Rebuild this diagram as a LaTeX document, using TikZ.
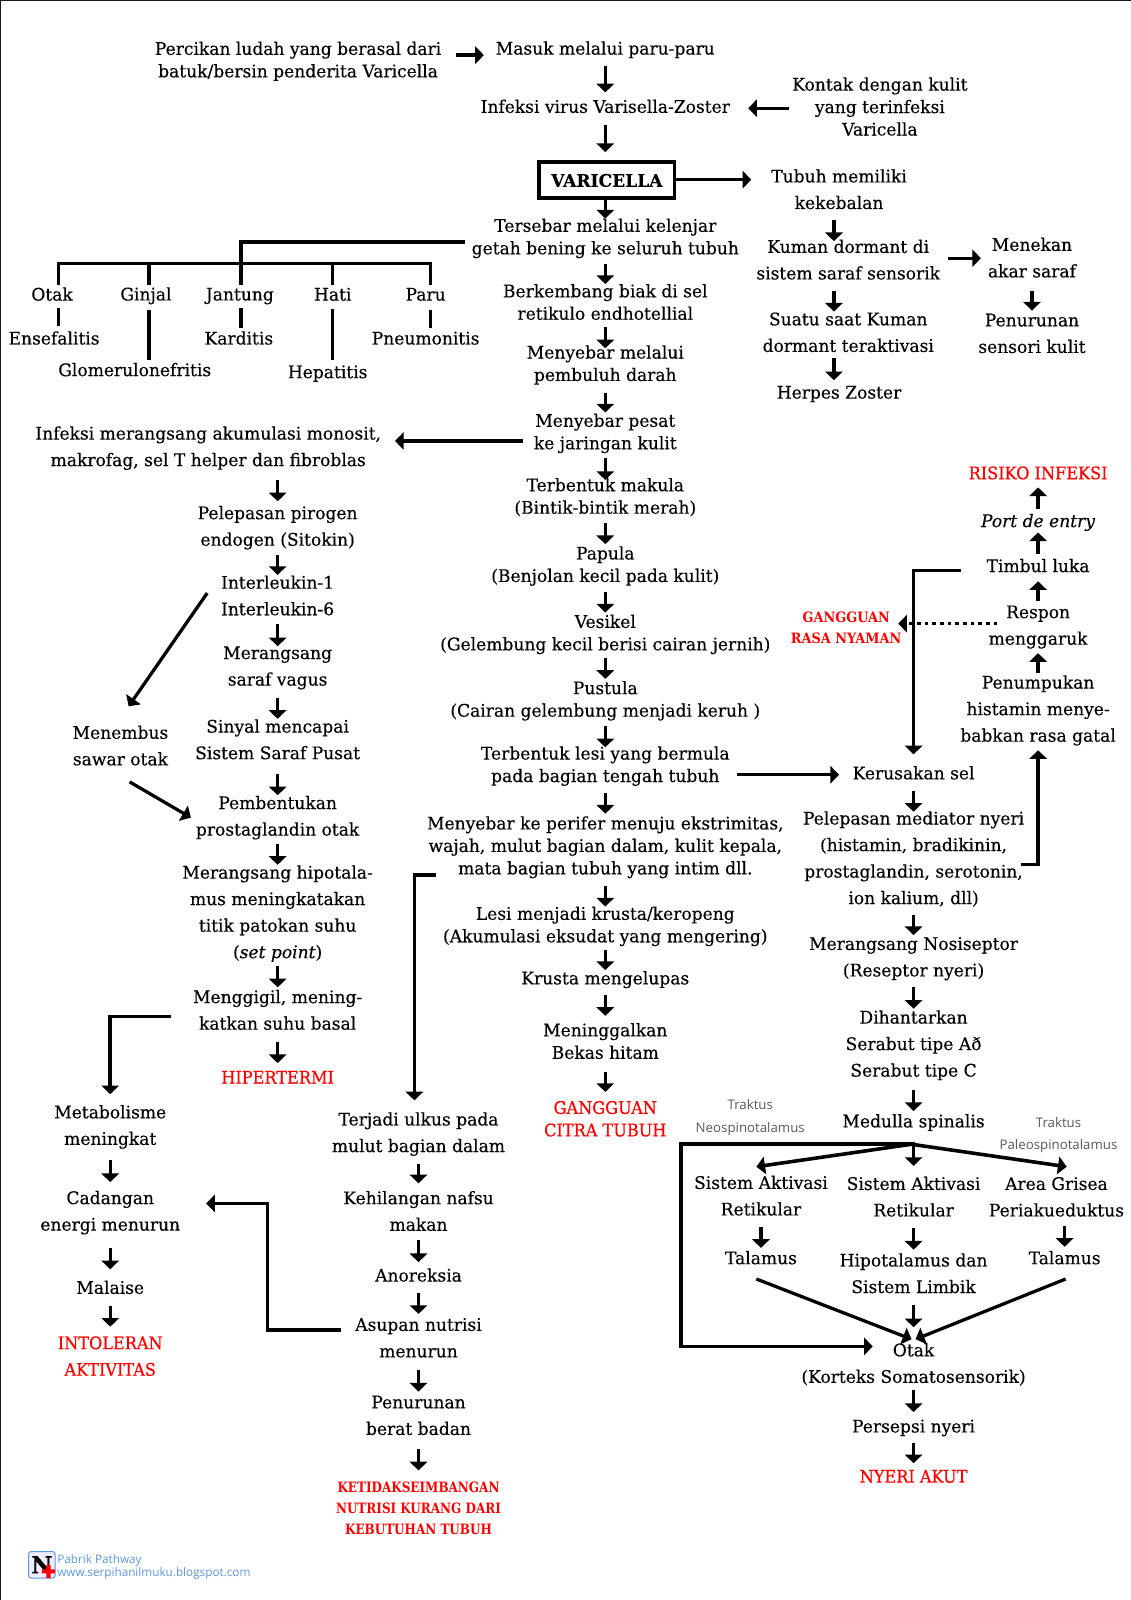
\documentclass[tikz,border=0pt]{standalone}
\usepackage{fontspec}
\usetikzlibrary{arrows.meta}
\setmainfont[FakeStretch=0.985,FakeBold=0.25]{DejaVu Serif}
\newfontfamily\redf[FakeStretch=0.93,FakeBold=0.5]{DejaVu Serif}
\newfontfamily\ketf[FakeStretch=0.84]{DejaVu Serif}
\newfontfamily\nyaf[FakeStretch=0.9]{DejaVu Serif}
\newfontfamily\grotesk{Open Sans}
\definecolor{blogblue}{RGB}{95,150,220}
\tikzset{
  txt/.style={align=center,inner sep=1pt,outer xsep=0pt,outer ysep=-2pt,font=\fontsize{17}{22}\selectfont,
    execute at begin node={\rule{0pt}{16.5pt}},execute at end node={\rule[-3.5pt]{0pt}{0pt}}},
  multi/.style 2 args={execute at begin node={\rule{0pt}{#1pt}},outer ysep=-#2pt},
  tt/.style={txt,multi={38}{1.5}},
  perc2/.style={txt,multi={37}{1}},
  three/.style={txt,multi={59}{1}},
  wide/.style={txt,multi={41}{1},font=\fontsize{17}{26}\selectfont},
  wide3/.style={wide,multi={67}{1}},
  wide4/.style={wide,multi={93}{1}},
  redt/.style={txt,text=red,font=\redf\fontsize{17}{22}\selectfont},
  redw/.style={wide,text=red,font=\redf\fontsize{17}{26}\selectfont},
  redb/.style={txt,multi={53.5}{1},text=red,font=\ketf\fontsize{14}{20.5}\selectfont\bfseries},
  redn/.style={txt,multi={34}{1},text=red,font=\nyaf\fontsize{14}{20.5}\selectfont\bfseries},
  tract/.style={align=center,inner sep=0pt,text=black!65,font=\grotesk\fontsize{13}{22}\selectfont},
  blog/.style={align=left,inner sep=0pt,anchor=west,text=blogblue,font=\grotesk\fontsize{11.5}{12}\selectfont},
  tipped/.style={-{Triangle[width=17pt,length=8.5pt]}},
  arr/.style={line width=3.2pt,tipped},
  sh/.style 2 args={shorten <=#1pt,shorten >=#2pt},
  conn/.style={line width=3.2pt},
  elbow/.style={line width=3.5pt,tipped},
  frameline/.style={line width=2.5pt,black!90}
}
\begin{document}
\begin{tikzpicture}[x=1pt,y=-1pt]
\useasboundingbox (0,0) rectangle (1108,1567.5);
\draw[frameline] (1108,0) -- (0,0) -- (0,1567.5);
% central column
\node[perc2] (perc) at (292,59) {Percikan ludah yang berasal dari\\batuk/bersin penderita Varicella};
\node[txt] (masuk) at (593,47) {Masuk melalui paru-paru};
\node[txt] (infeksi) at (593,104) {Infeksi virus Varisella-Zoster};
\node[three] (kontak) at (862,105) {Kontak dengan kulit\\yang terinfeksi\\Varicella};
\node[txt,draw,line width=3.5pt,outer ysep=1.75pt,font=\fontsize{17}{22}\selectfont\bfseries,minimum width=132.5pt,minimum height=35.5pt] (var) at (594.5,176.5) {VARICELLA};
\node[wide] (tubuh) at (822,186) {Tubuh memiliki\\kekebalan};
\node[tt] (tersebar) at (593,232) {Tersebar melalui kelenjar\\getah bening ke seluruh tubuh};
\node[wide] (kuman) at (831,255) {Kuman dormant di\\sistem saraf sensorik};
\node[wide] (menekan) at (1011,253) {Menekan\\akar saraf};
\node[tt] (berkembang) at (593,296) {Berkembang biak di sel\\retikulo endhotellial};
\node[wide] (suatu) at (831,326) {Suatu saat Kuman\\dormant teraktivasi};
\node[wide] (penurunan) at (1011,327) {Penurunan\\sensori kulit};
\node[txt] (herpes) at (822,384) {Herpes Zoster};
\node[tt] (menyebar) at (593,356) {Menyebar melalui\\pembuluh darah};
\node[tt] (pesat) at (593,423) {Menyebar pesat\\ke jaringan kulit};
\node[tt] (makula) at (593,486) {Terbentuk makula\\(Bintik-bintik merah)};
\node[tt] (papula) at (593,553) {Papula\\(Benjolan kecil pada kulit)};
\node[tt] (vesikel) at (593,620) {Vesikel\\(Gelembung kecil berisi cairan jernih)};
\node[tt] (pustula) at (593,685) {Pustula\\(Cairan gelembung menjadi keruh )};
\node[tt] (lesi) at (593,749) {Terbentuk lesi yang bermula\\pada bagian tengah tubuh};
\node[three] (perifer) at (593,829) {Menyebar ke perifer menuju ekstrimitas,\\wajah, mulut bagian dalam, kulit kepala,\\mata bagian tubuh yang intim dll.};
\node[tt] (krusta) at (593,906) {Lesi menjadi krusta/keropeng\\(Akumulasi eksudat yang mengering)};
\node[txt] (kelupas) at (593,958) {Krusta mengelupas};
\node[tt] (bekas) at (593,1020) {Meninggalkan\\Bekas hitam};
\node[redt,multi={38}{1.5}] (citra) at (593,1096) {GANGGUAN\\CITRA TUBUH};
% organs
\node[txt] (otak) at (51,288) {Otak};
\node[txt] (ginjal) at (143,288) {Ginjal};
\node[txt] (jantung) at (235,288) {Jantung};
\node[txt] (hati) at (326,288) {Hati};
\node[txt] (paru) at (417,288) {Paru};
\node[txt] (ensef) at (53,331) {Ensefalitis};
\node[txt] (kardit) at (234,331) {Karditis};
\node[txt] (pneu) at (417,331) {Pneumonitis};
\node[txt] (glom) at (132,362) {Glomerulonefritis};
\node[txt] (hepat) at (321,364) {Hepatitis};
% left column
\node[wide] (inf) at (204,438) {Infeksi merangsang akumulasi monosit,\\makrofag, sel T helper dan fibroblas};
\node[wide] (pirogen) at (272,516) {Pelepasan pirogen\\endogen (Sitokin)};
\node[wide] (inter) at (272,584) {Interleukin-1\\Interleukin-6};
\node[wide] (vagus) at (272,653) {Merangsang\\saraf vagus};
\node[wide] (sinyal) at (272,725) {Sinyal mencapai\\Sistem Saraf Pusat};
\node[wide] (menembus) at (118,731) {Menembus\\sawar otak};
\node[wide] (prostag) at (272,800) {Pembentukan\\prostaglandin otak};
\node[wide4] (hipot) at (272,894) {Merangsang hipotala-\\mus meningkatakan\\titik patokan suhu\\(\textit{set point})};
\node[wide] (gigil) at (272,990) {Menggigil, mening-\\katkan suhu basal};
\node[redt] (hiper) at (272,1055) {HIPERTERMI};
\node[wide] (metab) at (108,1103) {Metabolisme\\meningkat};
\node[wide] (cadangan) at (108,1187) {Cadangan\\energi menurun};
\node[txt] (malaise) at (108,1261) {Malaise};
\node[redw] (intol) at (108,1329) {INTOLERAN\\AKTIVITAS};
\node[wide] (ulkus) at (410,1110) {Terjadi ulkus pada\\mulut bagian dalam};
\node[wide] (nafsu) at (410,1187) {Kehilangan nafsu\\makan};
\node[txt] (anor) at (410,1249) {Anoreksia};
\node[wide] (asupan) at (410,1311) {Asupan nutrisi\\menurun};
\node[wide] (berat) at (410,1387) {Penurunan\\berat badan};
\node[redb] (ketid) at (410,1478) {KETIDAKSEIMBANGAN\\NUTRISI KURANG DARI\\KEBUTUHAN TUBUH};
% right column
\node[redt] (risiko) at (1017,463) {RISIKO INFEKSI};
\node[txt] (port) at (1017,510) {\textit{Port de entry}};
\node[txt] (timbul) at (1017,554) {Timbul luka};
\node[wide] (respon) at (1017,613) {Respon\\menggaruk};
\node[wide3] (numpuk) at (1017,695) {Penumpukan\\histamin menye-\\babkan rasa gatal};
\node[redn] (nyaman) at (829,615) {GANGGUAN\\RASA NYAMAN};
\node[txt] (rusak) at (895,757) {Kerusakan sel};
\node[wide4] (mediator) at (895,841) {Pelepasan mediator nyeri\\(histamin, bradikinin,\\prostaglandin, serotonin,\\ion kalium, dll)};
\node[wide] (nosi) at (895,938) {Merangsang Nosiseptor\\(Reseptor nyeri)};
\node[wide3] (hantar) at (895,1023) {Dihantarkan\\Serabut tipe Að\\Serabut tipe C};
\node[txt] (medulla) at (895,1098) {Medulla spinalis};
\node[tract] (trak1) at (735,1095) {Traktus\\Neospinotalamus};
\node[tract] (trak2) at (1037,1112) {Traktus\\Paleospinotalamus};
\node[wide] (sar1) at (745.5,1172) {Sistem Aktivasi\\Retikular};
\node[wide] (sar2) at (895,1173) {Sistem Aktivasi\\Retikular};
\node[wide] (area) at (1035,1173) {Area Grisea\\Periakueduktus};
\node[txt] (tal1) at (745.5,1232) {Talamus};
\node[wide] (hipo) at (895,1248) {Hipotalamus dan\\Sistem Limbik};
\node[txt] (tal2) at (1043,1232) {Talamus};
\node[wide] (otak2) at (895,1336) {Otak\\(Korteks Somatosensorik)};
\node[txt] (persepsi) at (895,1397) {Persepsi nyeri};
\node[redt] (nyeri) at (895,1446) {NYERI AKUT};
% blog mark
\node[draw=blogblue,rounded corners=2.5pt,line width=1pt,fill=blue!7,minimum size=26pt,inner sep=0pt,font=\fontsize{23}{23}\selectfont\bfseries] (logo) at (41,1533) {N};
\fill[red] (41,1537.5) rectangle (54,1541.5) (45.5,1533) rectangle (49.5,1546);
\node[blog] (blog) at (56,1535) {Pabrik Pathway\\www.serpihanilmuku.blogspot.com};
% connector ports
\coordinate (perc-out) at (447,54);     \coordinate (masuk-in) at (474,54);
\coordinate (kontak-out) at (773,106);  \coordinate (infeksi-in) at (733,106);
\coordinate (var-out) at (661,176);     \coordinate (tubuh-in) at (736,176);
\coordinate (kuman-out) at (929,253);   \coordinate (menekan-in) at (961,253);
\coordinate (pesat-out) at (512,432);   \coordinate (inf-in) at (387,432);
\coordinate (inter-out) at (203,581);   \coordinate (menembus-in) at (126,692);
\coordinate (menembus-out) at (127,766);\coordinate (prostag-in) at (187,801);
\coordinate (gigil-out) at (168,996);   \coordinate (metab-in) at (108,1072);
\coordinate (asupan-out) at (334,1303); \coordinate (cad-bend) at (262,1179);
\coordinate (cad-in) at (202,1179);
\coordinate (perifer-out) at (427,857); \coordinate (ulkus-in) at (406,1078);
\coordinate (lesi-out) at (722,759);    \coordinate (rusak-in) at (822,759);
\coordinate (split) at (893,1121);      \coordinate (split-l) at (667,1121);
\coordinate (otak2-in) at (855,1319);   \coordinate (sar1-in) at (741,1143);
\coordinate (area-in) at (1045,1143);
\coordinate (tal1-out) at (741,1253);   \coordinate (otak2-l) at (893,1312);
\coordinate (tal2-out) at (1044,1253);  \coordinate (otak2-r) at (897,1312);
\coordinate (mediator-out) at (1000,847); \coordinate (numpuk-in) at (1017,735);
\coordinate (timbul-out) at (941,559);  \coordinate (rusak-top) at (895,739);
\coordinate (respon-out) at (977,611);  \coordinate (nyaman-in) at (880,611);
\coordinate (tersebar-out) at (456,237);\coordinate (bus) at (236,258);
% main connectors
\draw[arr] (perc-out) -- (masuk-in);
\draw[arr,sh={8.5}{4.5}] (masuk) -- (infeksi);
\draw[arr] (kontak-out) -- (infeksi-in);
\draw[arr,sh={9.5}{8}] (infeksi) -- ([xshift=-1.5]var.north);
\draw[arr] (var-out) -- (tubuh-in);
\draw[arr,sh={0}{-2.5}] ([xshift=-1.5]var.south) -- (tersebar.north);
\draw[arr,sh={6.5}{-2.5}] (tersebar) -- (berkembang);
\draw[arr,sh={4.5}{-5.5}] (berkembang) -- (menyebar);
\draw[arr,sh={8.5}{-1.5}] (menyebar) -- (pesat);
\draw[arr,sh={5.5}{-4.5}] (pesat) -- (makula);
\draw[arr,sh={6.5}{-.5}] (makula) -- (papula);
\draw[arr,sh={6.5}{-.5}] (papula) -- (vesikel);
\draw[arr,sh={4.5}{-.5}] (vesikel) -- (pustula);
\draw[arr,sh={5.5}{-3.5}] (pustula) -- (lesi);
\draw[arr,sh={7.5}{.5}] (lesi) -- (perifer);
\draw[arr,sh={7.5}{-2.5}] (perifer) -- (krusta);
\draw[arr,sh={4.5}{-1.5}] (krusta) -- (kelupas);
\draw[arr,sh={7.5}{4.5}] (kelupas) -- (bekas);
\draw[arr,sh={9.5}{6}] (bekas) -- (citra);
\draw[arr,sh={7.5}{-3.5}] ([xshift=-5]tubuh.south) -- ([xshift=-14]kuman.north);
\draw[arr] (kuman-out) -- (menekan-in);
\draw[arr,sh={9.5}{.5}] (menekan) -- (penurunan);
\draw[arr,sh={7.5}{-1.5}] ([xshift=-14]kuman.south) -- ([xshift=-14]suatu.north);
\draw[arr,sh={2.5}{2.5}] ([xshift=-14]suatu.south) -- ([xshift=-5]herpes.north);
% organ tree
\draw[conn] (tersebar-out) -| (bus);
\draw[conn] ([xshift=6]otak.north) |- (bus);
\draw[conn] ([xshift=5]paru.north) |- (bus);
\draw[conn] ([xshift=3]ginjal.north) -- ([xshift=3]ginjal.north |- bus);
\draw[conn] ([xshift=1]jantung.north) -- ([xshift=1]jantung.north |- bus);
\draw[conn] (hati.north) -- (hati.north |- bus);
\draw[conn,sh={5}{3}] ([xshift=6]otak.south) -- ([xshift=4]ensef.north);
\draw[conn,sh={7}{0}] ([xshift=3]ginjal.south) -- ([xshift=14]glom.north);
\draw[conn,sh={5}{1}] ([xshift=1]jantung.south) -- ([xshift=2]kardit.north);
\draw[conn,sh={6}{2}] (hati.south) -- ([xshift=5]hepat.north);
\draw[conn,sh={7}{1}] ([xshift=5]paru.south) -- ([xshift=5]pneu.north);
% left connectors
\draw[arr] (pesat-out) -- (inf-in);
\draw[arr,sh={9.5}{2.5}] ([xshift=68]inf.south) -- (pirogen.north);
\draw[arr,sh={5.5}{-1.5}] (pirogen) -- (inter);
\draw[arr,sh={5.5}{-2.5}] (inter) -- (vagus);
\draw[arr,sh={8.5}{-1.5}] (vagus) -- (sinyal);
\draw[arr,sh={11.5}{-1.5}] (sinyal) -- (prostag);
\draw[arr,sh={4.5}{-1.5}] (prostag) -- (hipot);
\draw[arr,sh={4.5}{.5}] (hipot) -- (gigil);
\draw[arr,sh={8.5}{4.5}] (gigil) -- (hiper);
\draw[arr] (inter-out) -- (menembus-in);
\draw[arr] (menembus-out) -- (prostag-in);
\draw[elbow] (gigil-out) -| (metab-in);
\draw[arr,sh={11.5}{6.5}] (metab) -- (cadangan);
\draw[arr,sh={13.5}{8.5}] (cadangan) -- (malaise);
\draw[arr,sh={9.5}{7}] (malaise) -- (intol);
\draw[elbow] (asupan-out) -| (cad-bend) -- (cad-in);
\draw[elbow] (perifer-out) -| (ulkus-in);
\draw[arr,sh={7.5}{5.5}] (ulkus) -- (nafsu);
\draw[arr,sh={5.5}{3.5}] (nafsu) -- (anor);
\draw[arr,sh={8.5}{1.5}] (anor) -- (asupan);
\draw[arr,sh={8.5}{1.5}] (asupan) -- (berat);
\draw[arr,sh={10.5}{9}] (berat) -- (ketid);
% right connectors
\draw[arr] (lesi-out) -- (rusak-in);
\draw[arr,sh={8.5}{-2.5}] (rusak) -- (mediator);
\draw[arr,sh={7.5}{-.5}] (mediator) -- (nosi);
\draw[arr,sh={6.5}{-.5}] (nosi) -- (hantar);
\draw[arr,sh={9.5}{.5}] (hantar) -- (medulla);
\draw[arr,sh={11.5}{8.5}] (medulla) -- (sar2);
\draw[elbow] (split) -- (split-l) |- (otak2-in);
\draw[elbow] (split) -- (sar1-in);
\draw[elbow] (split) -- (area-in);
\draw[arr,sh={7.5}{.5}] (sar1) -- (tal1);
\draw[arr,sh={7.5}{1.5}] (sar2) -- (hipo);
\draw[arr,sh={5.5}{1.5}] ([xshift=8]area.south) -- (tal2.north);
\draw[arr] (tal1-out) -- (otak2-l);
\draw[arr] (tal2-out) -- (otak2-r);
\draw[arr,sh={8.5}{13.5}] (hipo) -- (otak2);
\draw[arr,sh={3.5}{4.5}] (otak2) -- (persepsi);
\draw[arr,sh={7.5}{3.5}] (persepsi) -- (nyeri);
\draw[arr,sh={0}{4.5}] (numpuk) -- (respon);
\draw[arr,sh={1.5}{6.5}] (respon) -- (timbul);
\draw[arr,sh={2.5}{2.5}] (timbul) -- (port);
\draw[arr,sh={2.5}{5.5}] (port) -- (risiko);
\draw[elbow] (mediator-out) -| (numpuk-in);
\draw[elbow] (timbul-out) -| (rusak-top);
\draw[line width=3.2pt,dash pattern=on 3.5pt off 4pt,tipped] (respon-out) -- (nyaman-in);
\end{tikzpicture}
\end{document}
